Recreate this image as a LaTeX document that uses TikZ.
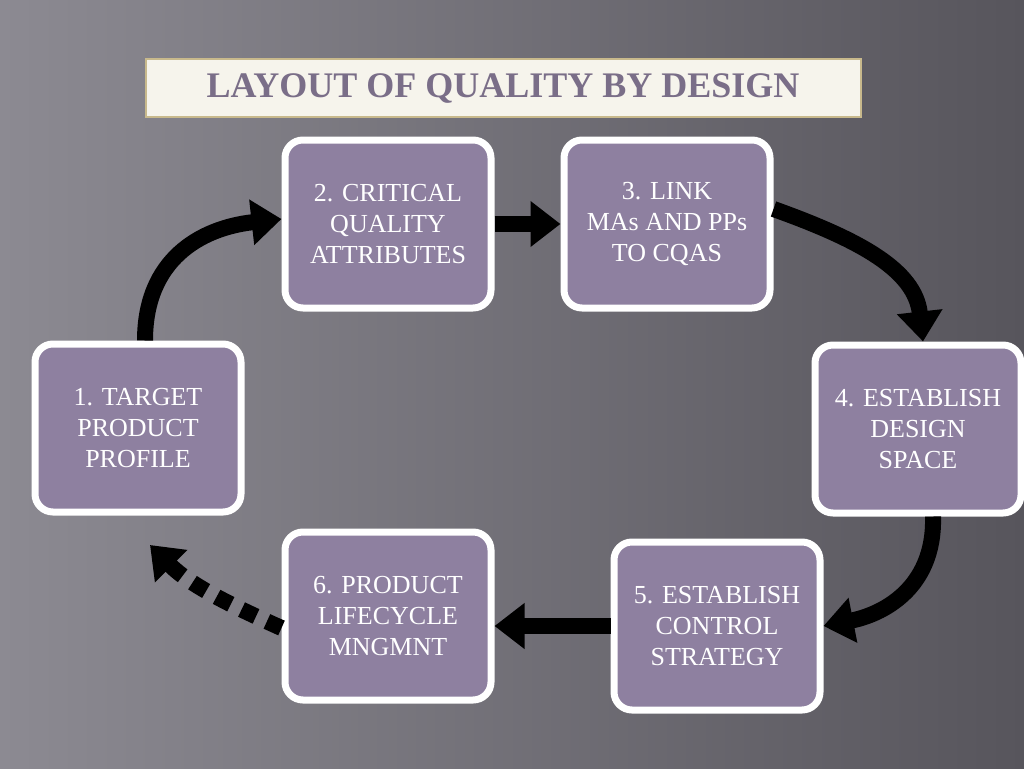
\documentclass[tikz,border=0pt]{standalone}
\usepackage{fontspec}
\setmainfont{Liberation Serif}
\usetikzlibrary{arrows.meta}
\begin{document}
\begin{tikzpicture}[x=1pt,y=-1pt,
  box/.style={draw=white,line width=7pt,fill=boxc,rounded corners=18pt,minimum width=206pt,minimum height=168pt,text=white,align=center,font=\fontsize{26}{31}\selectfont},
  arr/.style={line width=16pt,-{Triangle[length=30pt,width=44pt]}}]
\definecolor{boxc}{HTML}{8E80A0}
\definecolor{bgl}{HTML}{8C8A92}
\definecolor{bgr}{HTML}{57555C}
\useasboundingbox (0,0) rectangle (1024,768);
\shade[left color=bgl, right color=bgr] (0,0) rectangle (1024,768);
\node[draw={rgb,255:red,200;green,185;blue,140},line width=2pt,fill={rgb,255:red,246;green,244;blue,236},minimum width=715pt,minimum height=58pt,text={rgb,255:red,122;green,110;blue,136},font=\bfseries\fontsize{36}{40}\selectfont] (t) at (503,88) {LAYOUT OF QUALITY BY DESIGN};
\node[box] (b1) at (138,428) {1. TARGET\\PRODUCT\\PROFILE};
\node[box] (b2) at (388,224) {2. CRITICAL\\QUALITY\\ATTRIBUTES};
\node[box] (b3) at (667,224) {3. LINK\\MAs AND PPs\\TO CQAS};
\node[box] (b4) at (918,429) {4. ESTABLISH\\DESIGN\\SPACE};
\node[box] (b5) at (717,626) {5. ESTABLISH\\CONTROL\\STRATEGY};
\node[box] (b6) at (388,616) {6. PRODUCT\\LIFECYCLE\\MNGMNT};
\coordinate (d1) at (150,545);
\draw[arr] ([xshift=7pt]b1.north) .. controls (145,260) and (200,228) .. ([yshift=5pt]b2.west);
\draw[arr] (b2.east) -- (b3.west);
\draw[arr] ([yshift=15pt]b3.east) .. controls (860,240) and (915,270) .. ([xshift=5pt]b4.north);
\draw[arr] ([xshift=15pt]b4.south) .. controls (935,590) and (880,615) .. (b5.east);
\draw[arr] (b5.west) -- (b5.west -| b6.east);
\draw[line width=16pt,dash pattern=on 16pt off 12pt,-{Triangle[length=30pt,width=44pt]}] ([yshift=-12pt]b6.west) .. controls (230,605) and (190,585) .. (d1);
\end{tikzpicture}
\end{document}
